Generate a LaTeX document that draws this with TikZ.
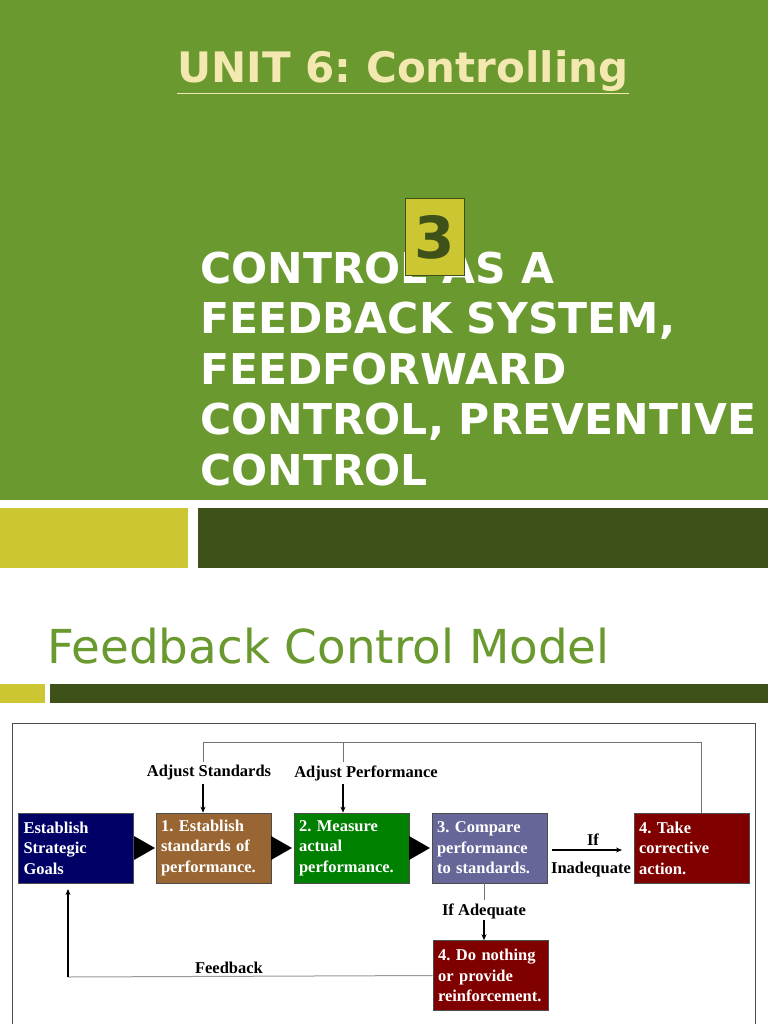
\documentclass[tikz,border=0pt]{standalone}
\usepackage{fontspec}
\setmainfont{Liberation Serif}
\newfontfamily\djfont{DejaVu Sans}
\usetikzlibrary{arrows.meta}
\definecolor{bg}{HTML}{6A992F}
\definecolor{yel}{HTML}{CCC632}
\definecolor{dkg}{HTML}{3D5119}
\definecolor{cream}{HTML}{F2E8B0}
\definecolor{navy}{HTML}{000066}
\definecolor{brn}{HTML}{996633}
\definecolor{grn}{HTML}{008000}
\definecolor{prp}{HTML}{666699}
\definecolor{dred}{HTML}{800000}
\frenchspacing
\tikzset{
 pbox/.style={draw=black!70,line width=0.6pt,minimum width=115pt,minimum height=70pt,text width=105pt,align=left,inner sep=0pt,text=white,font=\fontsize{16.5}{20.5}\selectfont\bfseries},
 lbl/.style={font=\fontsize{16.5}{18}\selectfont\bfseries,inner sep=1pt},
 conn/.style={line width=0.6pt,draw=black!55},
 arr/.style={line width=1.2pt,-{Stealth[length=6pt,width=5pt]}},
 tri/.style={fill=black}
}
\begin{document}
\begin{tikzpicture}[x=1pt,y=-1pt]
\useasboundingbox (0,0) rectangle (768,1024);
\fill[white] (0,0) rectangle (768,1024);
\fill[bg] (0,0) rectangle (768,500);
\fill[yel] (0,508) rectangle (188,568);
\fill[dkg] (198,508) rectangle (768,568);
\node[font=\djfont\bfseries\fontsize{42}{44}\selectfont,text=cream] (t) at (403,72) {\underline{UNIT 6: Controlling}};
\node[anchor=west,align=left,text=white,font=\djfont\bfseries\fontsize{42.5}{50.5}\selectfont,inner sep=0pt] (h) at (200,369) {CONTROL AS A\\FEEDBACK SYSTEM,\\FEEDFORWARD\\CONTROL, PREVENTIVE\\CONTROL};
\node[fill=yel,draw=dkg,line width=0.8pt,minimum width=59pt,minimum height=77pt,inner sep=0pt,text=dkg,font=\djfont\bfseries\fontsize{58}{60}\selectfont] (three) at (435,237) {3};
\node[anchor=west,text=bg,font=\djfont\fontsize{46.8}{48}\selectfont,inner sep=0pt] (fc) at (47,646) {Feedback Control Model};
\fill[yel] (0,684) rectangle (45,703);
\fill[dkg] (50,684) rectangle (768,703);
\draw[line width=0.8pt,black!70] (12,1030) -- (12,723) -- (755,723) -- (755,1030);
\node[pbox,fill=navy] (g) at (76,848) {Establish\\Strategic\\Goals};
\node[pbox,fill=brn] (b1) at (213.5,848) {1. Establish\\standards of\\performance.};
\node[pbox,fill=grn] (b2) at (351.5,848) {2. Measure\\actual\\performance.};
\node[pbox,fill=prp] (b3) at (489.5,848) {3. Compare\\performance\\to standards.};
\node[pbox,fill=dred] (b4) at (691.5,848) {4. Take\\corrective\\action.};
\node[pbox,fill=dred] (b5) at (490.5,975.5) {4. Do nothing\\or provide\\reinforcement.};
\foreach \a/\x in {g/134,b1/271,b2/409}{\fill[tri] (\x,836) -- (\x+21,848) -- (\x,860) -- cycle;}
\node[lbl] (as) at (209,773) {Adjust Standards};
\node[lbl] (ap) at (366,773) {Adjust Performance};
\coordinate (c1) at (203,742); \coordinate (c2) at (343,742); \coordinate (c3) at (701,742);
\draw[conn] (b4.north -| c3) -- (c3) -- (c1) -- (203,762);
\draw[conn] (c2) -- (343,762);
\draw[arr] (203,784) -- (b1.north -| c1);
\draw[arr] (343,784) -- (b2.north -| c2);
\node[lbl] (if) at (593,840) {If};
\node[lbl] (ina) at (591,870) {Inadequate};
\draw[arr] (552,850) -- (622,850);
\node[lbl] (ad) at (484,911) {If Adequate};
\draw[conn] (484,883) -- (484,900);
\draw[arr] (484,920) -- (b5.north -| 484,0);
\node[lbl] (fb) at (229,968) {Feedback};
\draw[conn,draw=black!40,line width=1pt] (b5.west) -- (68,977);
\draw[arr] (68,977) -- (68,889);
\end{tikzpicture}
\end{document}
